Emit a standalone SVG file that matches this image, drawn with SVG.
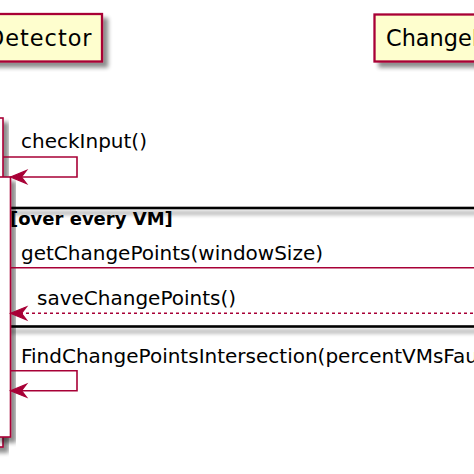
<svg xmlns="http://www.w3.org/2000/svg" xmlns:xlink="http://www.w3.org/1999/xlink" width="474" height="474" viewBox="0 0 474 474">
<defs>
<style>
.p{fill:#FEFECE;stroke:#A80036;stroke-width:2.3}
.pt{font-family:'DejaVu Sans',sans-serif;font-size:22.4px;fill:#000}
.act{fill:#FFFFFF;stroke:#A80036;stroke-width:1.6}
.msg{fill:none;stroke:#A80036;stroke-width:1.6}
.dash{stroke-dasharray:3,3}
.ah{fill:#A80036;stroke:#A80036;stroke-width:1.2;stroke-linejoin:miter}
.mt{font-family:'DejaVu Sans',sans-serif;font-size:20px;fill:#000}
.lt{font-family:'DejaVu Sans',sans-serif;font-size:18px;font-weight:bold;fill:#000}
.frame{fill:none;stroke:#000;stroke-width:2.6}
</style>
<filter id="sh" x="-20%" y="-20%" width="150%" height="150%">
<feGaussianBlur in="SourceAlpha" stdDeviation="2.2" result="b"/>
<feOffset in="b" dx="5" dy="5" result="o"/>
<feComponentTransfer in="o" result="s"><feFuncA type="linear" slope="0.45"/></feComponentTransfer>
<feMerge><feMergeNode in="s"/><feMergeNode in="SourceGraphic"/></feMerge>
</filter>
<path id="arr" d="M0,0 L16,-6.5 L11,0 L16,6.5 Z"/>
</defs>

<g id="loop-frame">
<rect class="frame" x="-60" y="208" width="600" height="118.5" filter="url(#sh)"/>
<text class="lt" x="10" y="225">[over every VM]</text>
</g>

<g id="Detector">
<rect class="p" x="-60" y="14" width="162" height="47.5" filter="url(#sh)"/>
<text class="pt" x="-13" y="45.5" letter-spacing="1">Detector</text>
</g>

<g id="ChangePoints">
<rect class="p" x="374.5" y="14.5" width="200" height="47" filter="url(#sh)"/>
<text class="pt" x="386" y="45.5">ChangeP</text>
</g>

<g id="Detector-activation">
<rect class="act" x="-14" y="118" width="17" height="329" filter="url(#sh)"/>
<rect class="act" x="-5" y="177" width="15.5" height="260" filter="url(#sh)"/>
</g>

<g id="connectors">
<path class="msg" d="M3,157 H77 V177 H14"/>
<use xlink:href="#arr" class="ah" x="10.5" y="177"/>
<text class="mt" x="21" y="148">checkInput()</text>

<path class="msg" d="M10.5,267.7 H480"/>
<text class="mt" x="21" y="260">getChangePoints(windowSize)</text>

<path class="msg dash" d="M14,313.3 H480"/>
<use xlink:href="#arr" class="ah" x="10.5" y="313.3"/>
<text class="mt" x="37" y="305">saveChangePoints()</text>

<path class="msg" d="M10.5,370.7 H77 V390.7 H14"/>
<use xlink:href="#arr" class="ah" x="10.5" y="390.7"/>
<text class="mt" x="21" y="362.5">FindChangePointsIntersection(percentVMsFau</text>
</g>
</svg>
